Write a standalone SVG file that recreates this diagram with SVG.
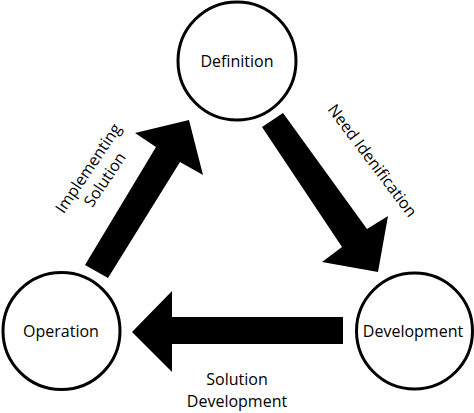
<svg xmlns="http://www.w3.org/2000/svg" width="474" height="413" viewBox="0 0 474 413">
<style>
.node circle{fill:#fff;stroke:#000;stroke-width:3}
text{font-family:"Open Sans","Liberation Sans",sans-serif;font-size:16px;fill:#000;text-anchor:middle}
.arrow{fill:#000}
</style>
<rect width="474" height="413" fill="#fff"/>
<g id="connectors">
<polygon class="arrow" points="262,127 342,247 322,262 378,272 388,216 367,229 283,113"/>
<polygon class="arrow" points="343,317 172,317 172,291 132,332 172,372 172,344 343,344"/>
<polygon class="arrow" points="85,265 156,147 135,133 189,120 203,175 180,162 108,278"/>
<g transform="translate(372,161) rotate(53)"><text x="0" y="5">Need Idenification</text></g>
<g transform="translate(96.5,174) rotate(-56)"><text x="0" y="-4.5">Implementing</text><text x="0" y="15.5">Solution</text></g>
<text x="237" y="385">Solution</text>
<text x="237" y="407">Development</text>
</g>
<g id="definition" class="node"><circle cx="237" cy="61" r="59"/><text x="237" y="67">Definition</text></g>
<g id="operation" class="node"><circle cx="61.5" cy="331" r="58.5"/><text x="61" y="337">Operation</text></g>
<g id="development" class="node"><circle cx="414.5" cy="331" r="58"/><text x="413" y="337">Development</text></g>
</svg>
